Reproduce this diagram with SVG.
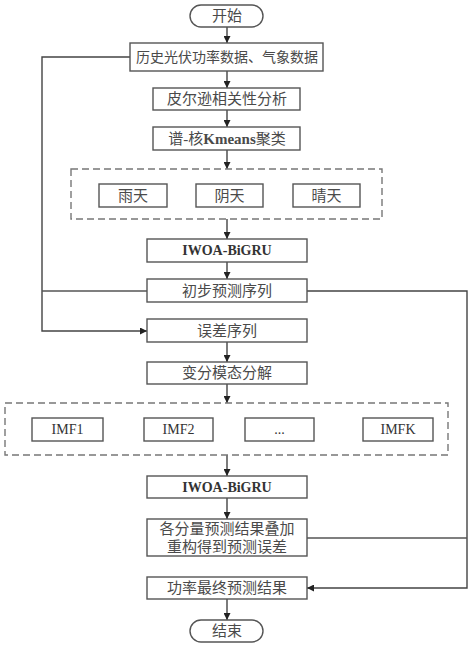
<svg xmlns="http://www.w3.org/2000/svg" width="474" height="648" viewBox="0 0 474 648">
<defs>
<marker id="ah" viewBox="0 0 10 10" refX="10" refY="5" markerWidth="7" markerHeight="7" markerUnits="userSpaceOnUse" orient="auto">
<path d="M0,0 L10,5 L0,10 z" fill="#222"/>
</marker>
<style>
.box{fill:#fff;stroke:#555;stroke-width:1.4}
.dash{fill:none;stroke:#777;stroke-width:1.4;stroke-dasharray:7,4}
.ln{fill:none;stroke:#555;stroke-width:1.4}
.ar{fill:none;stroke:#444;stroke-width:1.4;marker-end:url(#ah)}
.t{font-family:"Liberation Serif","Noto Sans CJK SC",serif;font-size:15px;fill:#4a4a4a;text-anchor:middle;dominant-baseline:central}
.e{font-family:"Liberation Serif","Noto Sans CJK SC",serif;font-size:14px;fill:#333;text-anchor:middle;dominant-baseline:central}
.b{font-weight:bold}
</style>
</defs>
<rect width="474" height="648" fill="#fff"/>
<g id="connectors">
<line class="ar" x1="227" y1="27" x2="227" y2="43"/>
<line class="ar" x1="227" y1="71" x2="227" y2="88"/>
<line class="ar" x1="227" y1="110" x2="227" y2="127"/>
<line class="ar" x1="227" y1="150" x2="227" y2="169"/>
<line class="ar" x1="227" y1="219" x2="227" y2="239"/>
<line class="ar" x1="227" y1="262" x2="227" y2="279"/>
<line class="ar" x1="227" y1="342" x2="227" y2="362"/>
<line class="ar" x1="227" y1="384" x2="227" y2="403"/>
<line class="ar" x1="227" y1="455" x2="227" y2="476"/>
<line class="ar" x1="227" y1="498" x2="227" y2="519"/>
<line class="ar" x1="227" y1="599" x2="227" y2="620"/>
<polyline class="ar" points="130,57 42,57 42,331 147,331"/>
<line class="ln" x1="147" y1="291" x2="42" y2="291"/>
<polyline class="ar" points="307,291 467,291 467,588 307,588"/>
<line class="ln" x1="307" y1="538" x2="467" y2="538"/>
</g>
<g id="start"><rect class="box" x="190" y="5" width="73" height="22" rx="11"/><text class="t" x="227" y="16">开始</text></g>
<g id="data"><rect class="box" x="130" y="43" width="193" height="28"/><text class="t" x="227" y="57" style="font-size:14px">历史光伏功率数据、气象数据</text></g>
<g id="pearson"><rect class="box" x="153" y="88" width="147" height="22"/><text class="t" x="227" y="99">皮尔逊相关性分析</text></g>
<g id="cluster"><rect class="box" x="153" y="127" width="147" height="23"/><text class="t" x="227" y="138.5">谱-核<tspan class="b">Kmeans</tspan>聚类</text></g>
<g id="weather-group"><rect class="dash" x="71" y="169" width="311" height="50"/></g>
<g id="rain"><rect class="box" x="99" y="184" width="68" height="23"/><text class="t" x="133" y="195.5">雨天</text></g>
<g id="cloudy"><rect class="box" x="196" y="184" width="67" height="23"/><text class="t" x="229.5" y="195.5">阴天</text></g>
<g id="sunny"><rect class="box" x="293" y="184" width="67" height="23"/><text class="t" x="326.5" y="195.5">晴天</text></g>
<g id="iwoa1"><rect class="box" x="147" y="239" width="160" height="23"/><text class="e b" x="227" y="250.5">IWOA-BiGRU</text></g>
<g id="initial"><rect class="box" x="147" y="279" width="160" height="23"/><text class="t" x="227" y="290.5">初步预测序列</text></g>
<g id="error"><rect class="box" x="147" y="319" width="160" height="23"/><text class="t" x="227" y="330.5">误差序列</text></g>
<g id="vmd"><rect class="box" x="147" y="362" width="160" height="22"/><text class="t" x="227" y="373">变分模态分解</text></g>
<g id="imf-group"><rect class="dash" x="5" y="403" width="443" height="52"/></g>
<g id="imf1"><rect class="box" x="32" y="418" width="71" height="23"/><text class="e" x="67.5" y="429.5">IMF1</text></g>
<g id="imf2"><rect class="box" x="144" y="418" width="69" height="23"/><text class="e" x="178.5" y="429.5">IMF2</text></g>
<g id="imfdots"><rect class="box" x="245" y="418" width="69" height="23"/><text class="e" x="279.5" y="429.5">...</text></g>
<g id="imfk"><rect class="box" x="363" y="418" width="70" height="23"/><text class="e" x="398" y="429.5">IMFK</text></g>
<g id="iwoa2"><rect class="box" x="147" y="476" width="160" height="22"/><text class="e b" x="227" y="487">IWOA-BiGRU</text></g>
<g id="recon"><rect class="box" x="147" y="519" width="160" height="37"/><text class="t" x="227" y="529">各分量预测结果叠加</text><text class="t" x="227" y="547">重构得到预测误差</text></g>
<g id="final"><rect class="box" x="147" y="577" width="160" height="22"/><text class="t" x="227" y="588">功率最终预测结果</text></g>
<g id="end"><rect class="box" x="190" y="620" width="73" height="22" rx="11"/><text class="t" x="227" y="631">结束</text></g>
</svg>
